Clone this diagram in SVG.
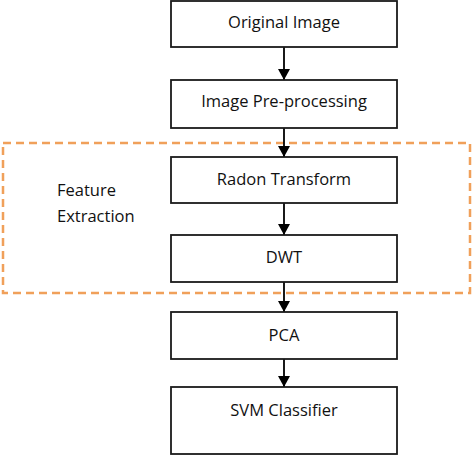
<svg xmlns="http://www.w3.org/2000/svg" width="474" height="455" viewBox="0 0 474 455">
<defs>
<marker id="ah" markerWidth="11" markerHeight="12" refX="11" refY="6" orient="auto" markerUnits="userSpaceOnUse">
<path d="M0,0 L11,6 L0,12 Z" fill="#000"/>
</marker>
<style>
.box{fill:#fff;stroke:#1a1a1a;stroke-width:1.8}
.lbl{font-family:"Open Sans","Noto Sans",sans-serif;font-size:16.5px;fill:#111;text-anchor:middle}
.side{font-family:"Open Sans","Noto Sans",sans-serif;font-size:16.5px;fill:#111}
.edge{stroke:#000;stroke-width:1.8;fill:none;marker-end:url(#ah)}
</style>
</defs>
<rect width="474" height="455" fill="#fff"/>
<g id="group-feature">
<rect x="3" y="143" width="467" height="150" fill="none" stroke="#f0a05a" stroke-width="2.5" stroke-dasharray="8,5"/>
<text class="side" x="57" y="196">Feature</text>
<text class="side" x="57" y="222">Extraction</text>
</g>
<g id="connectors">
<line class="edge" x1="284" y1="47" x2="284" y2="80"/>
<line class="edge" x1="284" y1="128" x2="284" y2="157"/>
<line class="edge" x1="284" y1="203" x2="284" y2="235"/>
<line class="edge" x1="284" y1="282" x2="284" y2="312"/>
<line class="edge" x1="284" y1="359" x2="284" y2="387"/>
</g>
<g id="n-original"><rect class="box" x="171" y="1" width="226" height="46"/><text class="lbl" x="284" y="28">Original Image</text></g>
<g id="n-preproc"><rect class="box" x="171" y="80" width="226" height="48"/><text class="lbl" x="284" y="107">Image Pre-processing</text></g>
<g id="n-radon"><rect class="box" x="171" y="157" width="226" height="46"/><text class="lbl" x="284" y="185">Radon Transform</text></g>
<g id="n-dwt"><rect class="box" x="171" y="235" width="226" height="47"/><text class="lbl" x="284" y="263">DWT</text></g>
<g id="n-pca"><rect class="box" x="171" y="312" width="226" height="47"/><text class="lbl" x="284" y="341">PCA</text></g>
<g id="n-svm"><rect class="box" x="171" y="387" width="226" height="67"/><text class="lbl" x="284" y="416">SVM Classifier</text></g>
</svg>
